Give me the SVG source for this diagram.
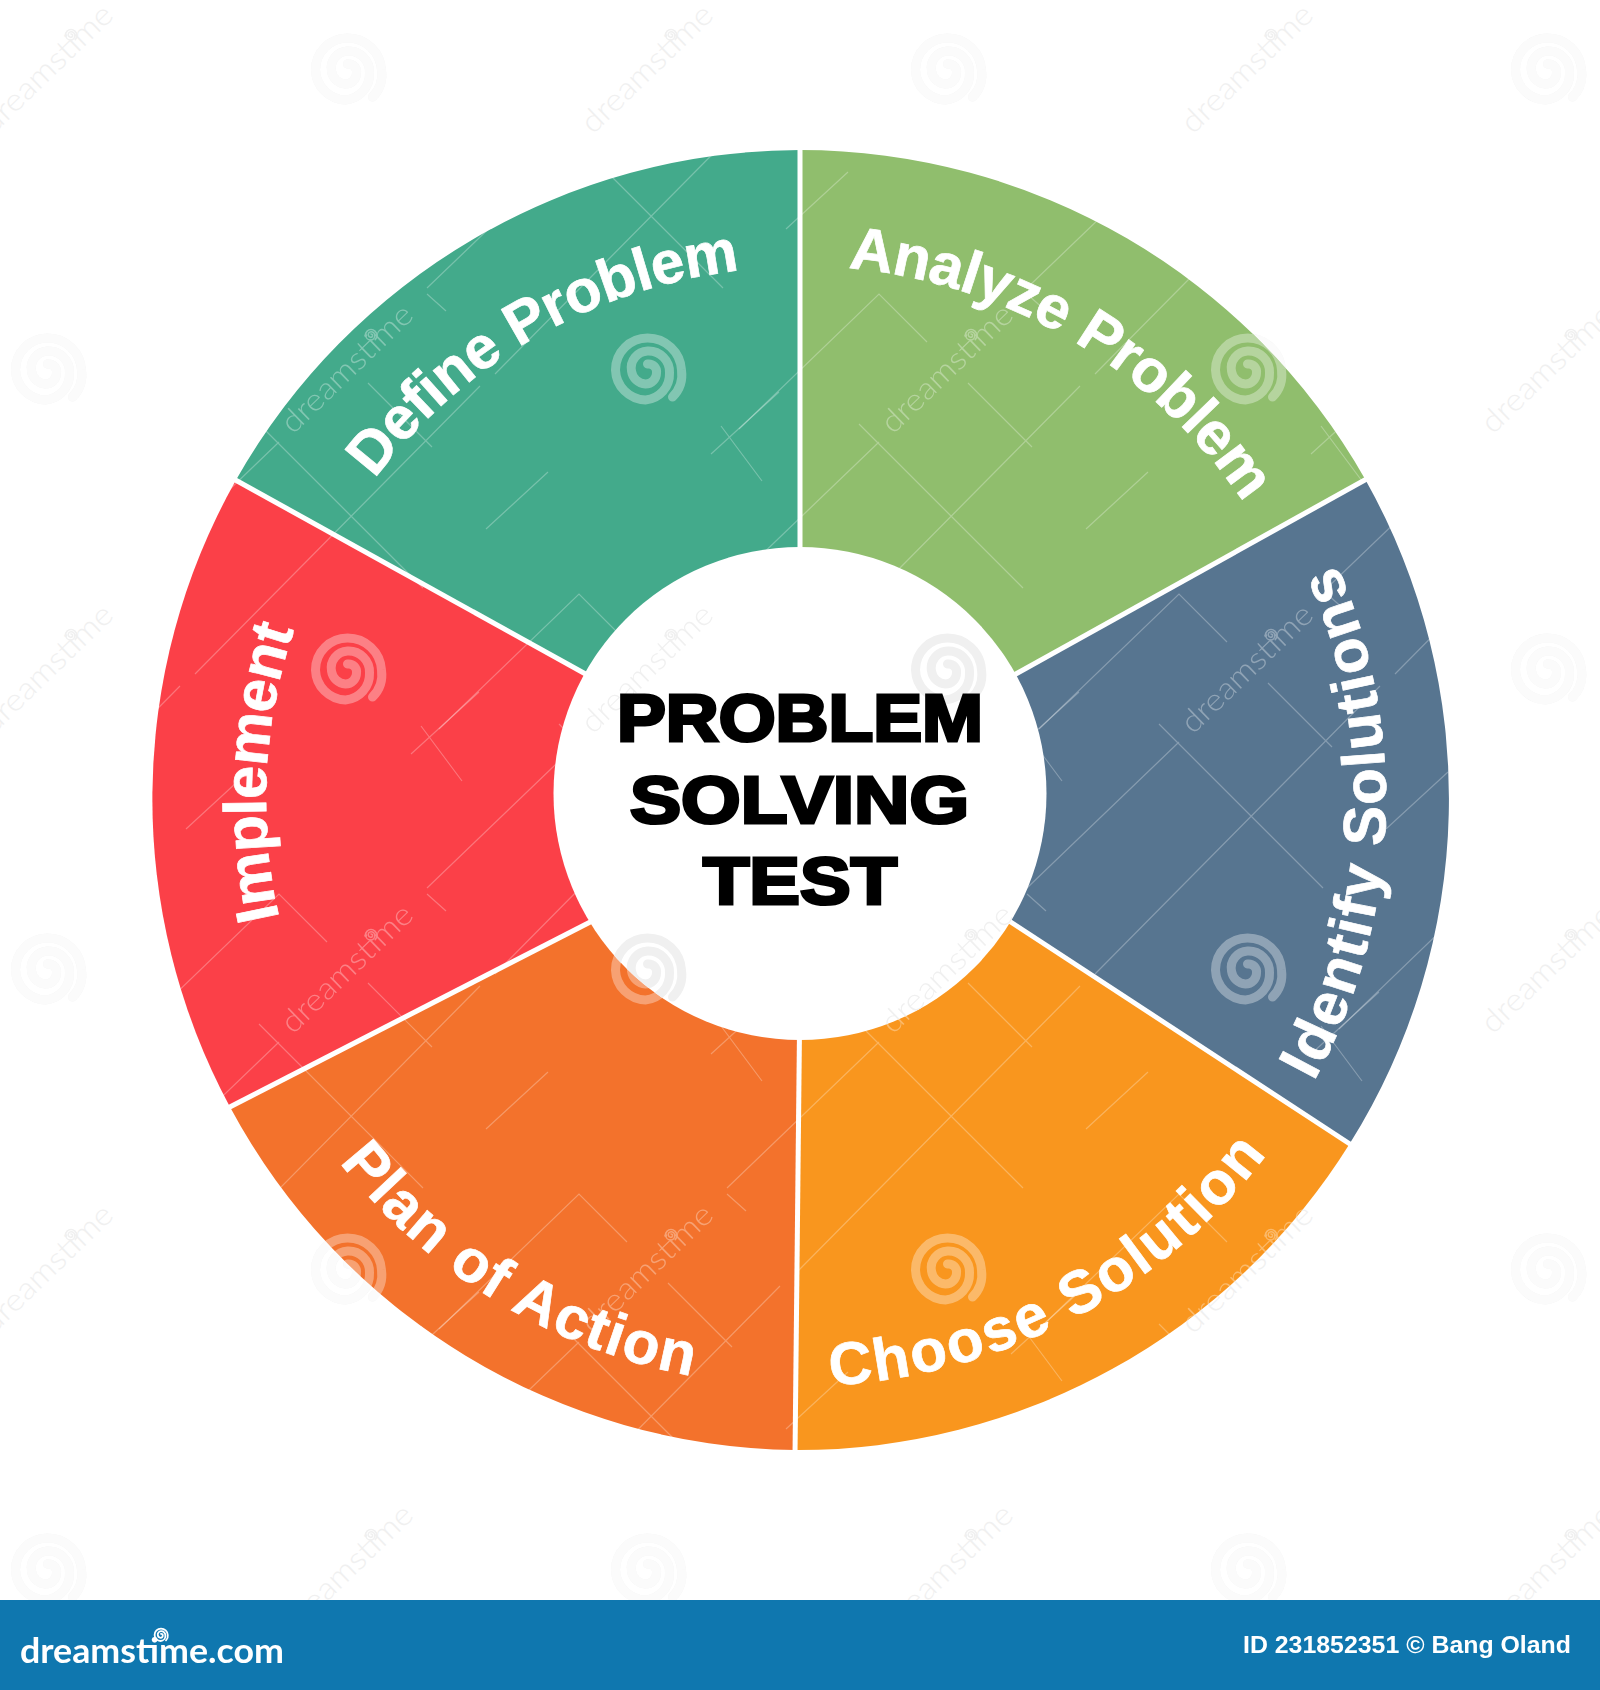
<svg xmlns="http://www.w3.org/2000/svg" xmlns:xlink="http://www.w3.org/1999/xlink" width="1600" height="1690" viewBox="0 0 1600 1690">
<style>
.lab{font-family:"Liberation Sans",Arial,sans-serif;font-weight:700;font-size:60px;fill:#fff;stroke:#fff;stroke-width:.7px}
.hub{font-family:"Liberation Sans",Arial,sans-serif;font-weight:700;font-size:67px;fill:#000;stroke:#000;stroke-width:3.2px;text-anchor:start}
.div{stroke:#fff;stroke-width:5;fill:none}
.sw{fill:none;stroke:currentColor;stroke-width:9;stroke-linecap:round}
.wt{font-family:"Lato","Liberation Sans",sans-serif;font-weight:300;font-size:31px;fill:currentColor}
.lat{stroke:#fff;stroke-width:1.2;stroke-opacity:.28;fill:none}
.foot{font-family:"Liberation Sans",Arial,sans-serif;font-weight:700;font-size:23px;fill:#fff}
.logo{font-family:"Lato","Noto Sans",sans-serif;font-weight:700;font-size:35px;fill:#fff}
</style>
<defs>
<clipPath id="wheel"><circle cx="800" cy="800" r="650"/></clipPath>
<clipPath id="hubclip"><circle cx="800" cy="793.5" r="246.5"/></clipPath>
<path id="swp" class="sw" d="M25 27A32 32 0 0 0 34 0A34 34 0 0 0 0-32A32 32 0 0 0-32 0A31 31 0 0 0-2 30A26 26 0 0 0 22 3A21 21 0 0 0 0-19A17 17 0 0 0-16 1A15 15 0 0 0-2 14A11 11 0 0 0 9 3A8 8 0 0 0 0-6"/>
<g id="swirls">
<use xlink:href="#swp" x="347.5" y="70"/><use xlink:href="#swp" x="947.5" y="70"/><use xlink:href="#swp" x="1547.5" y="70"/>
<use xlink:href="#swp" x="47.5" y="370"/><use xlink:href="#swp" x="647.5" y="370"/><use xlink:href="#swp" x="1247.5" y="370"/>
<use xlink:href="#swp" x="347.5" y="670"/><use xlink:href="#swp" x="947.5" y="670"/><use xlink:href="#swp" x="1547.5" y="670"/>
<use xlink:href="#swp" x="47.5" y="970"/><use xlink:href="#swp" x="647.5" y="970"/><use xlink:href="#swp" x="1247.5" y="970"/>
<use xlink:href="#swp" x="347.5" y="1270"/><use xlink:href="#swp" x="947.5" y="1270"/><use xlink:href="#swp" x="1547.5" y="1270"/>
<use xlink:href="#swp" x="47.5" y="1570"/><use xlink:href="#swp" x="647.5" y="1570"/><use xlink:href="#swp" x="1247.5" y="1570"/>
</g>
<g id="wt"><text class="wt" transform="rotate(-44)" textLength="170" lengthAdjust="spacingAndGlyphs">dreamstime</text><use xlink:href="#swp" transform="translate(78 -100) scale(.17)"/></g>
<g id="wts">
<use xlink:href="#wt" x="-7" y="135"/><use xlink:href="#wt" x="593" y="135"/><use xlink:href="#wt" x="1193" y="135"/>
<use xlink:href="#wt" x="293" y="435"/><use xlink:href="#wt" x="893" y="435"/><use xlink:href="#wt" x="1493" y="435"/>
<use xlink:href="#wt" x="-7" y="735"/><use xlink:href="#wt" x="593" y="735"/><use xlink:href="#wt" x="1193" y="735"/>
<use xlink:href="#wt" x="293" y="1035"/><use xlink:href="#wt" x="893" y="1035"/><use xlink:href="#wt" x="1493" y="1035"/>
<use xlink:href="#wt" x="-7" y="1335"/><use xlink:href="#wt" x="593" y="1335"/><use xlink:href="#wt" x="1193" y="1335"/>
<use xlink:href="#wt" x="293" y="1635"/><use xlink:href="#wt" x="893" y="1635"/><use xlink:href="#wt" x="1493" y="1635"/>
</g>
<path id="lt" class="lat" d="M-155 4L130-284M-223-82L-71-228M-91-246L73-82M18-287L82-223M-211-241L-71-376L-23-328M198-198L136-141M129 22L61 84M71 56L112 111M-223-76L-204-59"/>
<path id="p-define" d="M379.4 472.8A533 533 0 0 1 800 267"/>
<path id="p-analyze" d="M852.1 268.6A534 534 0 0 1 1325.9 707.3"/>
<path id="p-implement" d="M278.9 916.5A534 534 0 0 1 391 457"/>
<path id="p-identify" d="M1316 1077.5A586 586 0 0 0 901.8 222.9"/>
<path id="p-choose" d="M844.9 1384.3A586 586 0 0 0 1307.5 507"/>
<path id="p-plan" d="M340.8 1164A586 586 0 0 0 1307.5 1093"/>
</defs>
<rect width="1600" height="1690" fill="#fff"/>
<g id="watermark-back">
<use xlink:href="#swirls" color="#f0f0f0"/>
<use xlink:href="#swirls" color="#ffffff" opacity=".72"/>
<use xlink:href="#wts" color="#f0f0f0"/>
</g>
<g id="sector-define">
<path fill="#43AA8B" d="M800 150A650 650 0 0 0 236 480L585 673L800 795Z"/>
<text class="lab" letter-spacing="-.6" transform="rotate(-.85 800 800)"><textPath xlink:href="#p-define">Define Problem</textPath></text>
</g>
<g id="sector-analyze">
<path fill="#90BE6D" d="M800 150A650 650 0 0 1 1365 479L1016 674L800 795Z"/>
<text class="lab" letter-spacing="-.6" transform="rotate(-.4 800 800)"><textPath xlink:href="#p-analyze">Analyze Problem</textPath></text>
</g>
<g id="sector-identify">
<path fill="#577590" d="M1365 479A650 650 0 0 1 1349.5 1144L1011 921L800 795L1016 674Z"/>
<text class="lab" letter-spacing="1.9" transform="rotate(.45 800 800)"><textPath xlink:href="#p-identify">Identify Solutions</textPath></text>
</g>
<g id="sector-choose">
<path fill="#F9961E" d="M1349.5 1144A650 650 0 0 1 795 1450L800 795L1011 921Z"/>
<text class="lab" letter-spacing="2.3" transform="rotate(1.4 800 800)"><textPath xlink:href="#p-choose">Choose Solution</textPath></text>
</g>
<g id="sector-plan">
<path fill="#F3722C" d="M795 1450A650 650 0 0 1 230 1107L588 923L800 795Z"/>
<text class="lab" letter-spacing="1.5" transform="rotate(.2 800 800)"><textPath xlink:href="#p-plan">Plan of Action</textPath></text>
</g>
<g id="sector-implement">
<path fill="#FB4048" d="M230 1107A650 650 0 0 1 236 480L585 673L800 795L588 923Z"/>
<text class="lab" letter-spacing="-1" transform="rotate(-.15 800 800)"><textPath xlink:href="#p-implement">Implement</textPath></text>
</g>
<g id="watermark-wheel" clip-path="url(#wheel)">
<g color="#ffffff" opacity=".34"><use xlink:href="#swirls"/><use xlink:href="#wts"/></g>
<use xlink:href="#lt" x="350" y="670"/><use xlink:href="#lt" x="950" y="670"/><use xlink:href="#lt" x="1550" y="670"/>
<use xlink:href="#lt" x="50" y="370"/><use xlink:href="#lt" x="650" y="370"/><use xlink:href="#lt" x="1250" y="370"/>
<use xlink:href="#lt" x="50" y="970"/><use xlink:href="#lt" x="650" y="970"/><use xlink:href="#lt" x="1250" y="970"/>
<use xlink:href="#lt" x="350" y="1270"/><use xlink:href="#lt" x="950" y="1270"/><use xlink:href="#lt" x="1550" y="1270"/>
<use xlink:href="#lt" x="50" y="1570"/><use xlink:href="#lt" x="650" y="1570"/><use xlink:href="#lt" x="1250" y="1570"/>
<use xlink:href="#lt" x="350" y="1870"/><use xlink:href="#lt" x="950" y="1870"/><use xlink:href="#lt" x="1550" y="1870"/>
</g>
<g id="connectors">
<path class="div" d="M800 145V560"/>
<path class="div" d="M799.5 1030L795 1455"/>
<path class="div" d="M1372 476L1005 680"/>
<path class="div" d="M230 477L600 682"/>
<path class="div" d="M222 1111L600 917"/>
<path class="div" d="M1356 1148L1000 915"/>
</g>
<g id="hub">
<circle cx="800" cy="793.5" r="246.5" fill="#fff"/>
<g clip-path="url(#hubclip)" color="#f0f0f0"><use xlink:href="#swirls"/><use xlink:href="#wts"/></g>
<text class="hub" x="617" y="741" textLength="366" lengthAdjust="spacingAndGlyphs">PROBLEM</text>
<text class="hub" x="630" y="823" textLength="339" lengthAdjust="spacingAndGlyphs">SOLVING</text>
<text class="hub" x="703" y="904" textLength="194" lengthAdjust="spacingAndGlyphs">TEST</text>
</g>
<g id="footer">
<rect y="1600" width="1600" height="90" fill="#0F77AF"/>
<text class="logo" x="20" y="1663" textLength="264" lengthAdjust="spacingAndGlyphs">dreamstime.com</text>
<use xlink:href="#swp" transform="translate(161 1635) scale(.2)" color="#fff"/>
<text class="foot" x="1243" y="1653" textLength="328" lengthAdjust="spacingAndGlyphs">ID 231852351 © Bang Oland</text>
</g>
</svg>
